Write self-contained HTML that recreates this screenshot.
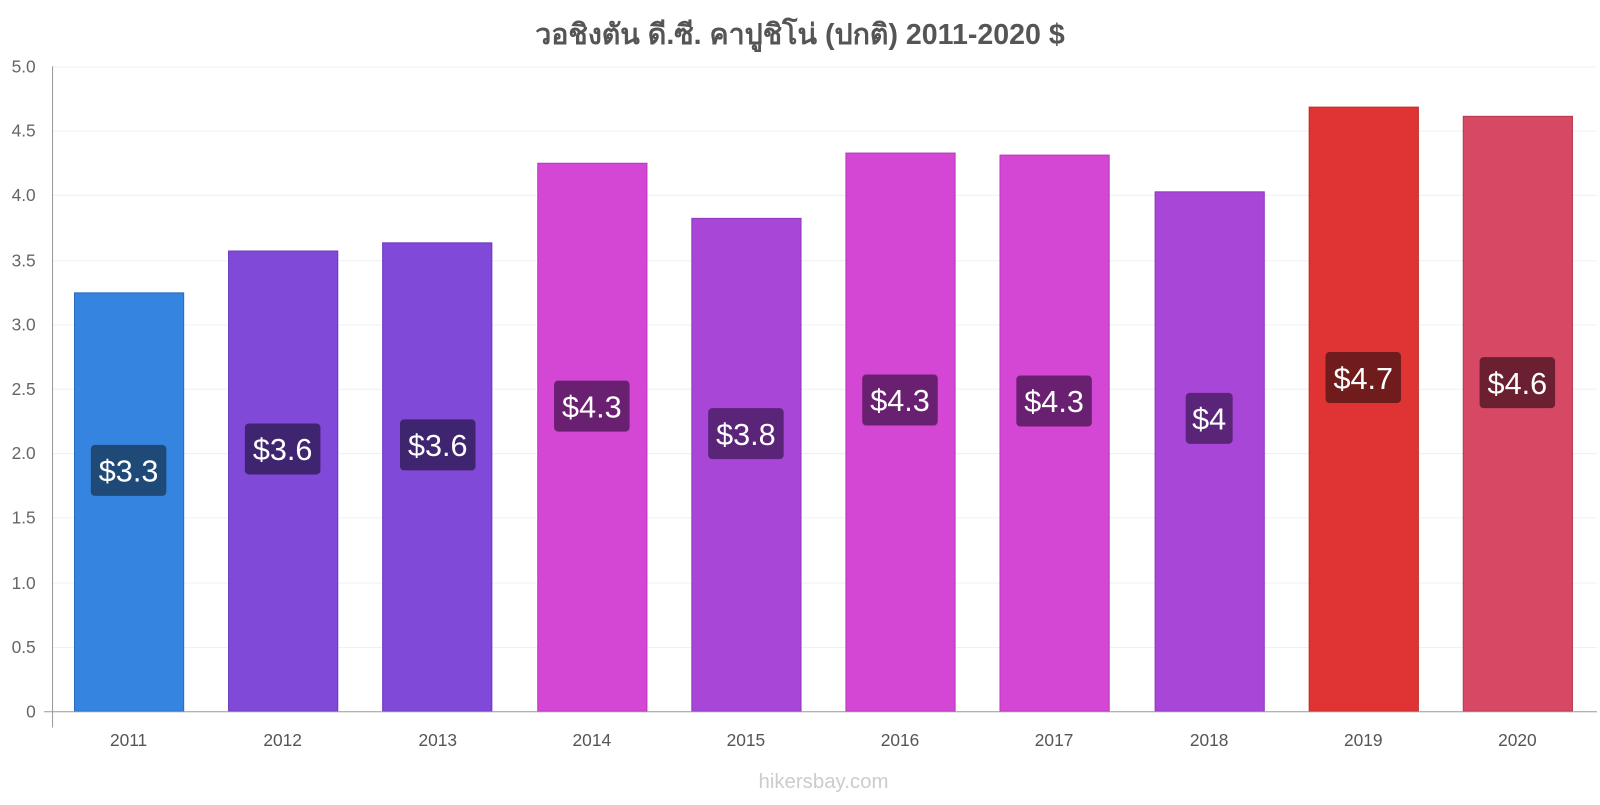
<!DOCTYPE html>
<html><head><meta charset="utf-8"><style>
body{margin:0;background:#fff;width:1600px;height:800px;overflow:hidden;font-family:"Liberation Sans","DejaVu Sans",sans-serif}
</style></head><body>
<svg width="1600" height="800" viewBox="0 0 1568 784" xmlns="http://www.w3.org/2000/svg" font-family="Liberation Sans, DejaVu Sans, sans-serif">
<text x="784" y="43" text-anchor="middle" font-size="28" font-weight="bold" fill="#555">วอชิงตัน ดี.ซี. คาปูชิโน่ (ปกติ) 2011-2020 $</text>
<g stroke="#f0f0f0" stroke-width="1">
<line x1="51" x2="1565" y1="65.5" y2="65.5"/><line x1="51" x2="1565" y1="128.5" y2="128.5"/><line x1="51" x2="1565" y1="191.5" y2="191.5"/><line x1="51" x2="1565" y1="255.5" y2="255.5"/><line x1="51" x2="1565" y1="318.5" y2="318.5"/><line x1="51" x2="1565" y1="381.5" y2="381.5"/><line x1="51" x2="1565" y1="444.5" y2="444.5"/><line x1="51" x2="1565" y1="507.5" y2="507.5"/><line x1="51" x2="1565" y1="571.5" y2="571.5"/><line x1="51" x2="1565" y1="634.5" y2="634.5"/>
</g>
<g font-size="17" fill="#666" text-anchor="end">
<text x="35" y="71">5.0</text><text x="35" y="134">4.5</text><text x="35" y="197">4.0</text><text x="35" y="261">3.5</text><text x="35" y="324">3.0</text><text x="35" y="387">2.5</text><text x="35" y="450">2.0</text><text x="35" y="513">1.5</text><text x="35" y="577">1.0</text><text x="35" y="640">0.5</text><text x="35" y="703">0</text>
</g>
<g>
<rect x="73" y="287" width="107" height="410" fill="#3584e0" stroke="#2a6cc0"/>
<rect x="224" y="246" width="107" height="451" fill="#8049d8" stroke="#6a38c0"/>
<rect x="375" y="238" width="107" height="459" fill="#8049d8" stroke="#6a38c0"/>
<rect x="527" y="160" width="107" height="537" fill="#d447d4" stroke="#b838b8"/>
<rect x="678" y="214" width="107" height="483" fill="#a846d8" stroke="#9038c0"/>
<rect x="829" y="150" width="107" height="547" fill="#d447d4" stroke="#b838b8"/>
<rect x="980" y="152" width="107" height="545" fill="#d447d4" stroke="#b838b8"/>
<rect x="1132" y="188" width="107" height="509" fill="#a846d8" stroke="#9038c0"/>
<rect x="1283" y="105" width="107" height="592" fill="#e03434" stroke="#c02828"/>
<rect x="1434" y="114" width="107" height="583" fill="#d64863" stroke="#b83850"/>
</g>
<g font-size="30" fill="#fff" text-anchor="middle">
<rect x="89" y="436" width="74" height="50" rx="4" fill="#1f4a78"/><text x="126" y="472">$3.3</text>
<rect x="240" y="415" width="74" height="50" rx="4" fill="#3f2470"/><text x="277" y="451">$3.6</text>
<rect x="392" y="411" width="74" height="50" rx="4" fill="#3f2470"/><text x="429" y="447">$3.6</text>
<rect x="543" y="373" width="74" height="50" rx="4" fill="#6a2070"/><text x="580" y="409">$4.3</text>
<rect x="694" y="400" width="74" height="50" rx="4" fill="#5a2478"/><text x="731" y="436">$3.8</text>
<rect x="845" y="367" width="74" height="50" rx="4" fill="#6a2070"/><text x="882" y="403">$4.3</text>
<rect x="996" y="368" width="74" height="50" rx="4" fill="#6a2070"/><text x="1033" y="404">$4.3</text>
<rect x="1162" y="385" width="46" height="50" rx="4" fill="#5a2478"/><text x="1185" y="421">$4</text>
<rect x="1299" y="345" width="74" height="50" rx="4" fill="#701c1c"/><text x="1336" y="381">$4.7</text>
<rect x="1450" y="350" width="74" height="50" rx="4" fill="#6a2030"/><text x="1487" y="386">$4.6</text>
</g>
<line x1="51.5" x2="51.5" y1="65" y2="713" stroke="#999"/>
<line x1="43" x2="1565" y1="697.5" y2="697.5" stroke="#999"/>
<g font-size="17" fill="#555" text-anchor="middle">
<text x="126" y="731">2011</text><text x="277" y="731">2012</text><text x="429" y="731">2013</text><text x="580" y="731">2014</text><text x="731" y="731">2015</text><text x="882" y="731">2016</text><text x="1033" y="731">2017</text><text x="1185" y="731">2018</text><text x="1336" y="731">2019</text><text x="1487" y="731">2020</text>
</g>
<text x="807" y="772" text-anchor="middle" font-size="20" fill="#ccc">hikersbay.com</text>
</svg>
</body></html>
